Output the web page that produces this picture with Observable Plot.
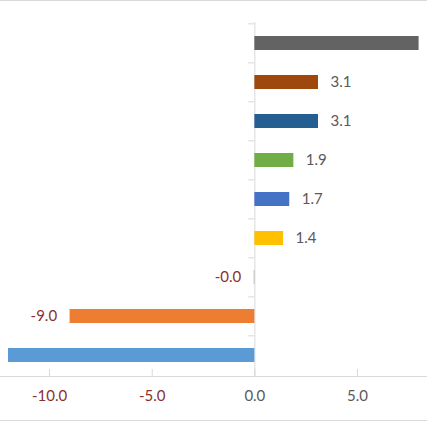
<!DOCTYPE html>
<html>
<head>
<meta charset="utf-8">
<script src="https://cdn.jsdelivr.net/npm/d3@7"></script>
<script src="https://cdn.jsdelivr.net/npm/@observablehq/plot@0.6"></script>
<style>
  body { margin: 0; background: #fff; }
  #chart { width: 427px; border-top: 1px solid #d9d9d9; border-bottom: 1px solid #d9d9d9; }
  #chart svg { display: block; }
</style>
</head>
<body>
<div id="chart"></div>
<script>
// category names are cut off in the picture, so they stay as plain ids (top to bottom)
const categories = ['c9', 'c8', 'c7', 'c6', 'c5', 'c4', 'c3', 'c2', 'c1']
const values = [8.0, 3.1, 3.1, 1.9, 1.7, 1.4, -0.03, -9.0, -12.0]
const colors = ['#636363', '#9E480E', '#255E91', '#70AD47', '#4472C4', '#FFC000', '#A5A5A5', '#ED7D31', '#5B9BD5']
const xTicks = [-10, -5, 0, 5]

const data = categories.map((c, i) => ({category: c, value: values[i], color: colors[i]}))
// the labels of the two longest bars fall outside the cropped picture
const shown = data.filter(d => d.value > -11 && d.value < 7)

const red = '#8b2f2f'
const gray = '#595959'
const lineColor = '#d9d9d9'
const fmt = d => d.toFixed(1)

let chart = Plot.plot({
    width: 427,
    height: 419,
    marginTop: 21,
    marginBottom: 44,
    marginLeft: 0,
    marginRight: 0,
    x: {domain: [-12.39, 8.41]},
    y: {domain: categories, paddingInner: 0.645, paddingOuter: 0.3225},
    color: {type: 'identity'},
    style: {fontFamily: 'Lato', fontSize: '15px', background: '#fff', overflow: 'hidden'},
    marks: [
        Plot.frame({anchor: 'bottom', stroke: lineColor}),
        Plot.ruleX([0], {stroke: lineColor}),
        Plot.ruleY(categories, {y: d => d, x1: -0.3, x2: 0, dy: -19.67, stroke: lineColor}),
        Plot.axisX({
            ticks: xTicks,
            tickSize: 7,
            dy: -7,
            tickPadding: 14,
            stroke: lineColor,
            fill: d => d < 0 ? red : gray,
            tickFormat: fmt,
            label: null
        }),
        Plot.axisY({ticks: [], label: null}),
        Plot.barX(data, {x: 'value', y: 'category', fill: 'color'}),
        Plot.text(shown.filter(d => d.value >= 0), {
            x: 'value', y: 'category', text: d => fmt(d.value),
            textAnchor: 'start', dx: 12, fill: gray
        }),
        Plot.text(shown.filter(d => d.value < 0), {
            x: 'value', y: 'category', text: d => fmt(d.value),
            textAnchor: 'end', dx: -13, fill: red
        }),
    ]
})

d3.select('#chart').append(() => chart)
</script>
</body>
</html>
